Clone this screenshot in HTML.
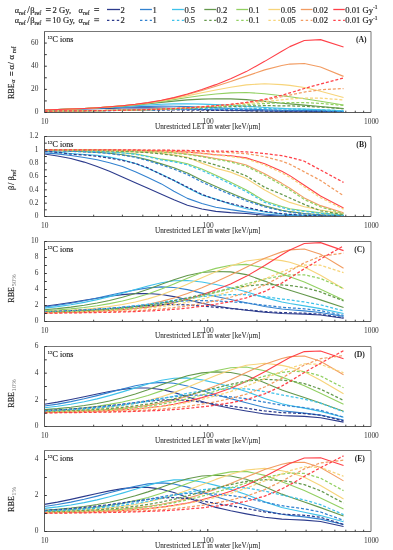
<!DOCTYPE html>
<html><head><meta charset="utf-8"><style>
html,body{margin:0;padding:0;background:#fff;}
#w{position:absolute;left:0;top:0;width:393px;height:550px;will-change:transform;}
svg{display:block;}
</style></head><body><div id="w">
<svg width="393" height="550" viewBox="0 0 393 550">
<g font-family="Liberation Serif, serif" font-size="8.6" fill="#2a2a2a" stroke="#2a2a2a" stroke-width="0.18">
<text y="12.7"><tspan x="14.8" font-size="8.2">α</tspan><tspan font-size="6.0" dy="2.4">ref</tspan><tspan x="27.2" dy="-2.4" font-size="9.4">/</tspan><tspan x="30.2">β</tspan><tspan font-size="6.0" dy="2.4">ref</tspan></text>
<text y="12.7"><tspan x="52.6">2 Gy,</tspan></text>
<text y="12.7"><tspan x="78.6" font-size="8.2">α</tspan><tspan font-size="6.0" dy="2.4">ref</tspan></text>
<text y="22.9"><tspan x="14.8" font-size="8.2">α</tspan><tspan font-size="6.0" dy="2.4">ref</tspan><tspan x="27.2" dy="-2.4" font-size="9.4">/</tspan><tspan x="30.2">β</tspan><tspan font-size="6.0" dy="2.4">ref</tspan></text>
<text y="22.9"><tspan x="52.2">10 Gy,</tspan></text>
<text y="22.9"><tspan x="78.6" font-size="8.2">α</tspan><tspan font-size="6.0" dy="2.4">ref</tspan></text>
</g>
<line x1="45.9" y1="8.50" x2="50.8" y2="8.50" stroke="#3a3a3a" stroke-width="0.9"/>
<line x1="45.9" y1="10.50" x2="50.8" y2="10.50" stroke="#3a3a3a" stroke-width="0.9"/>
<line x1="94.2" y1="8.50" x2="99.1" y2="8.50" stroke="#3a3a3a" stroke-width="0.9"/>
<line x1="94.2" y1="10.50" x2="99.1" y2="10.50" stroke="#3a3a3a" stroke-width="0.9"/>
<line x1="45.9" y1="18.70" x2="50.8" y2="18.70" stroke="#3a3a3a" stroke-width="0.9"/>
<line x1="45.9" y1="20.70" x2="50.8" y2="20.70" stroke="#3a3a3a" stroke-width="0.9"/>
<line x1="94.2" y1="18.70" x2="99.1" y2="18.70" stroke="#3a3a3a" stroke-width="0.9"/>
<line x1="94.2" y1="20.70" x2="99.1" y2="20.70" stroke="#3a3a3a" stroke-width="0.9"/>
<line x1="107.0" y1="9.5" x2="120.0" y2="9.5" stroke="#2c3b8c" stroke-width="1.3"/>
<line x1="107.0" y1="20.3" x2="120.0" y2="20.3" stroke="#2c3b8c" stroke-width="1.3" stroke-dasharray="2.4 2.5"/>
<text x="120.5" y="12.7" font-family="Liberation Serif, serif" font-size="8.6" fill="#2a2a2a" stroke="#2a2a2a" stroke-width="0.18">2</text>
<text x="120.5" y="22.9" font-family="Liberation Serif, serif" font-size="8.6" fill="#2a2a2a" stroke="#2a2a2a" stroke-width="0.18">2</text>
<line x1="140.0" y1="9.5" x2="151.9" y2="9.5" stroke="#3282d0" stroke-width="1.3"/>
<line x1="140.0" y1="20.3" x2="151.9" y2="20.3" stroke="#3282d0" stroke-width="1.3" stroke-dasharray="2.4 2.5"/>
<text x="152.4" y="12.7" font-family="Liberation Serif, serif" font-size="8.6" fill="#2a2a2a" stroke="#2a2a2a" stroke-width="0.18">1</text>
<text x="152.4" y="22.9" font-family="Liberation Serif, serif" font-size="8.6" fill="#2a2a2a" stroke="#2a2a2a" stroke-width="0.18">1</text>
<line x1="172.0" y1="9.5" x2="183.9" y2="9.5" stroke="#3fc2ea" stroke-width="1.3"/>
<line x1="172.0" y1="20.3" x2="183.9" y2="20.3" stroke="#3fc2ea" stroke-width="1.3" stroke-dasharray="2.4 2.5"/>
<text x="184.4" y="12.7" font-family="Liberation Serif, serif" font-size="8.6" fill="#2a2a2a" stroke="#2a2a2a" stroke-width="0.18">0.5</text>
<text x="184.4" y="22.9" font-family="Liberation Serif, serif" font-size="8.6" fill="#2a2a2a" stroke="#2a2a2a" stroke-width="0.18">0.5</text>
<line x1="204.3" y1="9.5" x2="216.0" y2="9.5" stroke="#64984c" stroke-width="1.3"/>
<line x1="204.3" y1="20.3" x2="216.0" y2="20.3" stroke="#64984c" stroke-width="1.3" stroke-dasharray="2.4 2.5"/>
<text x="216.5" y="12.7" font-family="Liberation Serif, serif" font-size="8.6" fill="#2a2a2a" stroke="#2a2a2a" stroke-width="0.18">0.2</text>
<text x="216.5" y="22.9" font-family="Liberation Serif, serif" font-size="8.6" fill="#2a2a2a" stroke="#2a2a2a" stroke-width="0.18">0.2</text>
<line x1="236.3" y1="9.5" x2="248.2" y2="9.5" stroke="#92d062" stroke-width="1.3"/>
<line x1="236.3" y1="20.3" x2="248.2" y2="20.3" stroke="#92d062" stroke-width="1.3" stroke-dasharray="2.4 2.5"/>
<text x="248.7" y="12.7" font-family="Liberation Serif, serif" font-size="8.6" fill="#2a2a2a" stroke="#2a2a2a" stroke-width="0.18">0.1</text>
<text x="248.7" y="22.9" font-family="Liberation Serif, serif" font-size="8.6" fill="#2a2a2a" stroke="#2a2a2a" stroke-width="0.18">0.1</text>
<line x1="268.4" y1="9.5" x2="280.2" y2="9.5" stroke="#f7d47a" stroke-width="1.3"/>
<line x1="268.4" y1="20.3" x2="280.2" y2="20.3" stroke="#f7d47a" stroke-width="1.3" stroke-dasharray="2.4 2.5"/>
<text x="280.7" y="12.7" font-family="Liberation Serif, serif" font-size="8.6" fill="#2a2a2a" stroke="#2a2a2a" stroke-width="0.18">0.05</text>
<text x="280.7" y="22.9" font-family="Liberation Serif, serif" font-size="8.6" fill="#2a2a2a" stroke="#2a2a2a" stroke-width="0.18">0.05</text>
<line x1="300.8" y1="9.5" x2="312.4" y2="9.5" stroke="#f29c62" stroke-width="1.3"/>
<line x1="300.8" y1="20.3" x2="312.4" y2="20.3" stroke="#f29c62" stroke-width="1.3" stroke-dasharray="2.4 2.5"/>
<text x="312.9" y="12.7" font-family="Liberation Serif, serif" font-size="8.6" fill="#2a2a2a" stroke="#2a2a2a" stroke-width="0.18">0.02</text>
<text x="312.9" y="22.9" font-family="Liberation Serif, serif" font-size="8.6" fill="#2a2a2a" stroke="#2a2a2a" stroke-width="0.18">0.02</text>
<line x1="333.3" y1="9.5" x2="344.8" y2="9.5" stroke="#ff4048" stroke-width="1.3"/>
<line x1="333.3" y1="20.3" x2="344.8" y2="20.3" stroke="#ff4048" stroke-width="1.3" stroke-dasharray="2.4 2.5"/>
<text x="345.3" y="12.7" font-family="Liberation Serif, serif" font-size="8.6" fill="#2a2a2a" stroke="#2a2a2a" stroke-width="0.18">0.01 Gy<tspan font-size="5.4" dy="-3.4">-1</tspan></text>
<text x="345.3" y="22.9" font-family="Liberation Serif, serif" font-size="8.6" fill="#2a2a2a" stroke="#2a2a2a" stroke-width="0.18">0.01 Gy<tspan font-size="5.4" dy="-3.4">-1</tspan></text>
<text transform="translate(14.0,99.1) rotate(-90)" font-family="Liberation Serif, serif" fill="#2a2a2a" stroke="#2a2a2a" stroke-width="0.18"><tspan x="0.0" y="0.0" font-size="8.2" >RBE</tspan><tspan x="16.4" y="0.8" font-size="6.0" font-style="italic">α</tspan><tspan x="29.4" y="0.0" font-size="9.0" >α</tspan><tspan x="34.6" y="0.0" font-size="8.2" >/</tspan><tspan x="39.4" y="0.0" font-size="9.0" >α</tspan><tspan x="46.2" y="1.8" font-size="5.8" >ref</tspan></text>
<line x1="10.5" y1="71.6" x2="10.5" y2="75.8" stroke="#3a3a3a" stroke-width="0.9"/>
<line x1="12.5" y1="71.6" x2="12.5" y2="75.8" stroke="#3a3a3a" stroke-width="0.9"/>
<text transform="translate(14.0,189.9) rotate(-90)" font-family="Liberation Serif, serif" fill="#2a2a2a" stroke="#2a2a2a" stroke-width="0.18"><tspan x="0.0" y="0.0" font-size="8.4" >β</tspan><tspan x="4.9" y="0.0" font-size="8.2" >/</tspan><tspan x="9.3" y="0.0" font-size="8.4" >β</tspan><tspan x="13.6" y="1.8" font-size="5.8" >ref</tspan></text>
<text transform="translate(14.0,302.8) rotate(-90)" font-family="Liberation Serif, serif" fill="#2a2a2a" stroke="#2a2a2a" stroke-width="0.18"><tspan x="0.0" y="0.0" font-size="8.2" >RBE</tspan><tspan x="16.4" y="1.9" font-size="6.6" fill="#777" stroke="none">50%</tspan></text>
<text transform="translate(14.0,407.8) rotate(-90)" font-family="Liberation Serif, serif" fill="#2a2a2a" stroke="#2a2a2a" stroke-width="0.18"><tspan x="0.0" y="0.0" font-size="8.2" >RBE</tspan><tspan x="16.4" y="1.9" font-size="6.6" fill="#777" stroke="none">10%</tspan></text>
<text transform="translate(14.0,511.9) rotate(-90)" font-family="Liberation Serif, serif" fill="#2a2a2a" stroke="#2a2a2a" stroke-width="0.18"><tspan x="0.0" y="0.0" font-size="8.2" >RBE</tspan><tspan x="16.2" y="1.9" font-size="6.6" fill="#777" stroke="none">1%</tspan></text>
<g fill="none" stroke-linejoin="round" stroke-linecap="butt">
<polyline points="44.50,110.05 57.43,109.75 70.85,109.41 84.19,109.03 97.12,108.66 109.48,108.34 122.41,108.06 135.34,107.89 147.95,107.86 161.42,108.02 173.90,108.37 187.40,108.89 201.89,109.47 215.84,109.93 230.64,110.30 246.26,110.62 264.68,110.97 281.83,111.17 289.85,111.21 304.32,111.27 320.51,111.42 343.54,111.97" stroke="#2c3b8c" stroke-width="1.1"/>
<polyline points="44.50,110.00 57.43,109.67 70.85,109.26 84.19,108.79 97.12,108.27 109.48,107.76 122.41,107.22 135.34,106.73 147.95,106.36 161.42,106.17 173.90,106.27 187.40,106.66 201.89,107.29 215.84,107.90 230.64,108.46 246.26,109.05 264.68,109.75 281.83,110.21 289.85,110.34 304.32,110.55 320.51,110.84 343.54,111.56" stroke="#3282d0" stroke-width="1.1"/>
<polyline points="44.50,109.97 57.43,109.62 70.85,109.17 84.19,108.64 97.12,108.03 109.48,107.37 122.41,106.61 135.34,105.81 147.95,105.04 161.42,104.32 173.90,103.89 187.40,103.81 201.89,104.14 215.84,104.67 230.64,105.33 246.26,106.20 264.68,107.43 281.83,108.37 289.85,108.68 304.32,109.17 320.51,109.76 343.54,110.81" stroke="#3fc2ea" stroke-width="1.1"/>
<polyline points="44.50,109.95 57.43,109.59 70.85,109.11 84.19,108.53 97.12,107.84 109.48,107.07 122.41,106.12 135.34,105.02 147.95,103.81 161.42,102.41 173.90,101.11 187.40,99.91 201.89,99.08 215.84,98.77 230.64,98.87 246.26,99.60 264.68,101.39 281.83,103.21 289.85,103.92 304.32,105.12 320.51,106.54 343.54,108.64" stroke="#64984c" stroke-width="1.1"/>
<polyline points="44.50,109.95 57.43,109.58 70.85,109.09 84.19,108.49 97.12,107.77 109.48,106.95 122.41,105.92 135.34,104.69 147.95,103.26 161.42,101.47 173.90,99.61 187.40,97.53 201.89,95.51 215.84,93.99 230.64,92.88 246.26,92.53 264.68,93.72 281.83,95.82 289.85,96.80 304.32,98.70 320.51,101.22 343.54,104.92" stroke="#92d062" stroke-width="1.1"/>
<polyline points="44.50,109.94 57.43,109.57 70.85,109.08 84.19,108.47 97.12,107.74 109.48,106.88 122.41,105.81 135.34,104.49 147.95,102.93 161.42,100.89 173.90,98.63 187.40,95.87 201.89,92.77 215.84,89.92 230.64,87.18 246.26,84.84 264.68,83.73 281.83,84.59 289.85,85.35 304.32,87.46 320.51,91.24 343.54,97.44" stroke="#f7d47a" stroke-width="1.1"/>
<polyline points="44.50,109.94 57.43,109.56 70.85,109.07 84.19,108.45 97.12,107.71 109.48,106.84 122.41,105.73 135.34,104.36 147.95,102.71 161.42,100.48 173.90,97.91 187.40,94.58 201.89,90.49 215.84,86.26 230.64,81.53 246.26,76.14 264.68,69.89 281.83,65.49 289.85,64.08 304.32,63.49 320.51,67.01 343.54,76.37" stroke="#f29c62" stroke-width="1.1"/>
<polyline points="44.50,109.94 57.43,109.56 70.85,109.07 84.19,108.45 97.12,107.70 109.48,106.82 122.41,105.70 135.34,104.31 147.95,102.62 161.42,100.32 173.90,97.63 187.40,94.07 201.89,89.53 215.84,84.64 230.64,78.85 246.26,71.61 264.68,61.35 281.83,51.19 289.85,46.63 304.32,40.47 320.51,39.63 343.54,46.95" stroke="#ff4048" stroke-width="1.1"/>
<polyline points="44.50,111.07 57.43,111.01 70.85,110.92 84.19,110.81 97.12,110.70 109.48,110.57 122.41,110.42 135.34,110.27 147.95,110.13 161.42,110.01 173.90,109.97 187.40,110.03 201.89,110.20 215.84,110.39 230.64,110.57 246.26,110.76 264.68,111.01 281.83,111.17 289.85,111.20 304.32,111.26 320.51,111.41 343.54,111.96" stroke="#2c3b8c" stroke-width="1.25" stroke-dasharray="3 1.9" stroke-dashoffset="0.0"/>
<polyline points="44.50,111.07 57.43,111.00 70.85,110.90 84.19,110.79 97.12,110.66 109.48,110.51 122.41,110.33 135.34,110.12 147.95,109.90 161.42,109.66 173.90,109.47 187.40,109.33 201.89,109.30 215.84,109.35 230.64,109.46 246.26,109.65 264.68,110.00 281.83,110.30 289.85,110.39 304.32,110.55 320.51,110.82 343.54,111.54" stroke="#3282d0" stroke-width="1.25" stroke-dasharray="3 1.9" stroke-dashoffset="0.7"/>
<polyline points="44.50,111.07 57.43,110.99 70.85,110.90 84.19,110.78 97.12,110.64 109.48,110.48 122.41,110.27 135.34,110.04 147.95,109.76 161.42,109.43 173.90,109.10 187.40,108.76 201.89,108.46 215.84,108.27 230.64,108.15 246.26,108.17 264.68,108.46 281.83,108.85 289.85,109.01 304.32,109.32 320.51,109.79 343.54,110.79" stroke="#3fc2ea" stroke-width="1.25" stroke-dasharray="3 1.9" stroke-dashoffset="1.4"/>
<polyline points="44.50,111.06 57.43,110.99 70.85,110.89 84.19,110.77 97.12,110.62 109.48,110.45 122.41,110.24 135.34,109.98 147.95,109.66 161.42,109.25 173.90,108.80 187.40,108.25 201.89,107.64 215.84,107.07 230.64,106.51 246.26,106.00 264.68,105.71 281.83,105.79 289.85,105.90 304.32,106.27 320.51,107.07 343.54,108.71" stroke="#64984c" stroke-width="1.25" stroke-dasharray="3 1.9" stroke-dashoffset="2.1"/>
<polyline points="44.50,111.06 57.43,110.99 70.85,110.89 84.19,110.77 97.12,110.62 109.48,110.44 122.41,110.22 135.34,109.95 147.95,109.62 161.42,109.19 173.90,108.68 187.40,108.04 201.89,107.26 215.84,106.46 230.64,105.58 246.26,104.60 264.68,103.52 281.83,102.82 289.85,102.60 304.32,102.59 320.51,103.36 343.54,105.49" stroke="#92d062" stroke-width="1.25" stroke-dasharray="3 1.9" stroke-dashoffset="2.8"/>
<polyline points="44.50,111.06 57.43,110.99 70.85,110.89 84.19,110.76 97.12,110.62 109.48,110.44 122.41,110.22 135.34,109.94 147.95,109.60 161.42,109.15 173.90,108.61 187.40,107.91 201.89,107.03 215.84,106.08 230.64,104.97 246.26,103.59 264.68,101.67 281.83,99.84 289.85,99.04 304.32,98.02 320.51,98.07 343.54,99.97" stroke="#f7d47a" stroke-width="1.25" stroke-dasharray="3 1.9" stroke-dashoffset="3.5"/>
<polyline points="44.50,111.06 57.43,110.99 70.85,110.89 84.19,110.76 97.12,110.61 109.48,110.44 122.41,110.21 135.34,109.93 147.95,109.59 161.42,109.12 173.90,108.57 187.40,107.83 201.89,106.87 215.84,105.81 230.64,104.50 246.26,102.78 264.68,100.03 281.83,96.76 289.85,95.03 304.32,92.03 320.51,89.75 343.54,88.53" stroke="#f29c62" stroke-width="1.25" stroke-dasharray="3 1.9" stroke-dashoffset="4.2"/>
<polyline points="44.50,111.06 57.43,110.99 70.85,110.89 84.19,110.76 97.12,110.61 109.48,110.44 122.41,110.21 135.34,109.93 147.95,109.58 161.42,109.11 173.90,108.55 187.40,107.80 201.89,106.81 215.84,105.70 230.64,104.32 246.26,102.45 264.68,99.31 281.83,95.25 289.85,92.95 304.32,88.51 320.51,84.01 343.54,77.90" stroke="#ff4048" stroke-width="1.25" stroke-dasharray="3 1.9" stroke-dashoffset="4.9"/>
</g>
<path d="M44.5,31.5 V112.5 H371" fill="none" stroke="#5a5a5a" stroke-width="1"/>
<path d="M44,31.5 H371 V112.5" fill="none" stroke="#777" stroke-width="1"/>
<line x1="44.5" y1="112.50" x2="46.8" y2="112.50" stroke="#333" stroke-width="1"/>
<line x1="44.5" y1="89.36" x2="46.8" y2="89.36" stroke="#333" stroke-width="1"/>
<line x1="44.5" y1="66.21" x2="46.8" y2="66.21" stroke="#333" stroke-width="1"/>
<line x1="44.5" y1="43.07" x2="46.8" y2="43.07" stroke="#333" stroke-width="1"/>
<line x1="44.5" y1="100.93" x2="46.8" y2="100.93" stroke="#333" stroke-width="1"/>
<line x1="44.5" y1="77.79" x2="46.8" y2="77.79" stroke="#333" stroke-width="1"/>
<line x1="44.5" y1="54.64" x2="46.8" y2="54.64" stroke="#333" stroke-width="1"/>
<text x="38.4" y="114.40" text-anchor="end" font-family="Liberation Serif, serif" font-size="7.4" fill="#333">0</text>
<text x="38.4" y="91.26" text-anchor="end" font-family="Liberation Serif, serif" font-size="7.4" fill="#333">20</text>
<text x="38.4" y="68.11" text-anchor="end" font-family="Liberation Serif, serif" font-size="7.4" fill="#333">40</text>
<text x="38.4" y="44.97" text-anchor="end" font-family="Liberation Serif, serif" font-size="7.4" fill="#333">60</text>
<line x1="93.66" y1="112.5" x2="93.66" y2="110.7" stroke="#333" stroke-width="0.9"/>
<line x1="122.41" y1="112.5" x2="122.41" y2="110.7" stroke="#333" stroke-width="0.9"/>
<line x1="142.82" y1="112.5" x2="142.82" y2="110.7" stroke="#333" stroke-width="0.9"/>
<line x1="158.64" y1="112.5" x2="158.64" y2="110.7" stroke="#333" stroke-width="0.9"/>
<line x1="171.57" y1="112.5" x2="171.57" y2="110.7" stroke="#333" stroke-width="0.9"/>
<line x1="182.50" y1="112.5" x2="182.50" y2="110.7" stroke="#333" stroke-width="0.9"/>
<line x1="191.97" y1="112.5" x2="191.97" y2="110.7" stroke="#333" stroke-width="0.9"/>
<line x1="200.33" y1="112.5" x2="200.33" y2="110.7" stroke="#333" stroke-width="0.9"/>
<line x1="256.96" y1="112.5" x2="256.96" y2="110.7" stroke="#333" stroke-width="0.9"/>
<line x1="285.71" y1="112.5" x2="285.71" y2="110.7" stroke="#333" stroke-width="0.9"/>
<line x1="306.12" y1="112.5" x2="306.12" y2="110.7" stroke="#333" stroke-width="0.9"/>
<line x1="321.94" y1="112.5" x2="321.94" y2="110.7" stroke="#333" stroke-width="0.9"/>
<line x1="334.87" y1="112.5" x2="334.87" y2="110.7" stroke="#333" stroke-width="0.9"/>
<line x1="345.80" y1="112.5" x2="345.80" y2="110.7" stroke="#333" stroke-width="0.9"/>
<line x1="355.27" y1="112.5" x2="355.27" y2="110.7" stroke="#333" stroke-width="0.9"/>
<line x1="363.63" y1="112.5" x2="363.63" y2="110.7" stroke="#333" stroke-width="0.9"/>
<line x1="207.80" y1="112.5" x2="207.80" y2="110.0" stroke="#333" stroke-width="1"/>
<text x="44.80" y="124.4" text-anchor="middle" font-family="Liberation Serif, serif" font-size="7.4" fill="#333">10</text>
<text x="208.10" y="124.4" text-anchor="middle" font-family="Liberation Serif, serif" font-size="7.4" fill="#333">100</text>
<text x="371.40" y="124.4" text-anchor="middle" font-family="Liberation Serif, serif" font-size="7.4" fill="#333">1000</text>
<text x="155" y="128.9" font-family="Liberation Serif, serif" font-size="7.4" textLength="105.5" lengthAdjust="spacingAndGlyphs" fill="#2e2e2e" stroke="#2e2e2e" stroke-width="0.08">Unrestricted LET in water [keV/μm]</text>
<text x="47.6" y="41.6" font-family="Liberation Serif, serif" font-size="8" fill="#2a2a2a" stroke="#2a2a2a" stroke-width="0.18"><tspan font-size="5.0" dy="-3.0">12</tspan><tspan dy="3.0" x="52.6">C ions</tspan></text>
<text x="366.6" y="41.5" text-anchor="end" font-family="Liberation Serif, serif" font-size="7.7" font-weight="bold" fill="#1e1e1e">(A)</text>
<g fill="none" stroke-linejoin="round" stroke-linecap="butt">
<polyline points="44.50,153.96 57.43,156.01 70.85,158.56 84.19,162.10 97.12,166.53 109.48,171.24 122.41,176.96 135.34,182.86 147.95,188.32 161.42,194.18 173.90,199.84 187.40,205.32 201.89,208.96 215.84,211.34 230.64,212.59 246.26,213.49 264.68,215.25 281.83,215.93 289.85,216.07 304.32,216.24 320.51,216.36 343.54,216.45" stroke="#2c3b8c" stroke-width="1.1"/>
<polyline points="44.50,152.88 57.43,153.84 70.85,155.44 84.19,157.47 97.12,159.78 109.48,162.84 122.41,166.49 135.34,171.64 147.95,177.52 161.42,183.89 173.90,191.16 187.40,198.39 201.89,203.50 215.84,207.18 230.64,209.66 246.26,211.84 264.68,214.15 281.83,215.29 289.85,215.59 304.32,215.95 320.51,216.19 343.54,216.38" stroke="#3282d0" stroke-width="1.1"/>
<polyline points="44.50,151.28 57.43,152.17 70.85,153.48 84.19,154.50 97.12,155.20 109.48,157.14 122.41,159.83 135.34,163.52 147.95,168.40 161.42,174.35 173.90,180.51 187.40,187.84 201.89,195.01 215.84,199.13 230.64,204.18 246.26,208.67 264.68,211.97 281.83,213.99 289.85,214.60 304.32,215.34 320.51,215.84 343.54,216.25" stroke="#3fc2ea" stroke-width="1.1"/>
<polyline points="44.50,150.48 57.43,150.76 70.85,151.17 84.19,151.64 97.12,152.20 109.48,153.22 122.41,154.72 135.34,156.68 147.95,159.86 161.42,163.90 173.90,167.74 187.40,173.04 201.89,180.34 215.84,186.58 230.64,192.90 246.26,199.50 264.68,205.86 281.83,210.25 289.85,211.67 304.32,213.48 320.51,214.75 343.54,215.81" stroke="#64984c" stroke-width="1.1"/>
<polyline points="44.50,150.18 57.43,150.34 70.85,150.56 84.19,150.89 97.12,151.32 109.48,151.89 122.41,152.69 135.34,153.84 147.95,156.26 161.42,159.17 173.90,160.86 187.40,163.68 201.89,169.03 215.84,175.16 230.64,182.22 246.26,189.92 264.68,200.97 281.83,206.58 289.85,208.70 304.32,210.78 320.51,212.92 343.54,215.06" stroke="#92d062" stroke-width="1.1"/>
<polyline points="44.50,150.02 57.43,150.11 70.85,150.23 84.19,150.41 97.12,150.65 109.48,150.96 122.41,151.40 135.34,152.02 147.95,152.49 161.42,153.29 173.90,154.84 187.40,157.31 201.89,163.13 215.84,168.19 230.64,172.13 246.26,178.58 264.68,189.93 281.83,199.15 289.85,202.40 304.32,206.71 320.51,210.03 343.54,213.52" stroke="#f7d47a" stroke-width="1.1"/>
<polyline points="44.50,149.92 57.43,149.95 70.85,150.01 84.19,150.09 97.12,150.20 109.48,150.34 122.41,150.54 135.34,150.82 147.95,151.22 161.42,151.85 173.90,152.71 187.40,154.05 201.89,156.15 215.84,158.55 230.64,160.95 246.26,164.99 264.68,173.75 281.83,183.35 289.85,188.21 304.32,197.90 320.51,205.63 343.54,212.82" stroke="#f29c62" stroke-width="1.1"/>
<polyline points="44.50,149.88 57.43,149.90 70.85,149.93 84.19,149.97 97.12,150.03 109.48,150.11 122.41,150.22 135.34,150.37 147.95,150.59 161.42,150.94 173.90,151.42 187.40,152.17 201.89,153.30 215.84,154.69 230.64,155.78 246.26,157.88 264.68,163.82 281.83,171.36 289.85,175.63 304.32,185.22 320.51,196.08 343.54,207.98" stroke="#ff4048" stroke-width="1.1"/>
<polyline points="44.50,151.15 57.43,152.36 70.85,154.15 84.19,154.97 97.12,156.16 109.48,158.06 122.41,160.40 135.34,163.43 147.95,167.92 161.42,174.67 173.90,180.39 187.40,187.13 201.89,194.37 215.84,199.52 230.64,203.45 246.26,207.34 264.68,211.35 281.83,213.67 289.85,214.36 304.32,215.19 320.51,215.76 343.54,216.21" stroke="#2c3b8c" stroke-width="1.25" stroke-dasharray="3 1.9" stroke-dashoffset="0.0"/>
<polyline points="44.50,150.54 57.43,150.85 70.85,151.31 84.19,151.83 97.12,152.47 109.48,153.57 122.41,155.20 135.34,157.31 147.95,160.68 161.42,164.97 173.90,169.05 187.40,174.58 201.89,182.03 215.84,188.28 230.64,194.48 246.26,200.85 264.68,206.81 281.83,210.86 289.85,212.16 304.32,213.79 320.51,214.94 343.54,215.89" stroke="#3282d0" stroke-width="1.25" stroke-dasharray="3 1.9" stroke-dashoffset="0.7"/>
<polyline points="44.50,150.22 57.43,150.39 70.85,150.64 84.19,150.99 97.12,151.47 109.48,152.09 122.41,152.97 135.34,154.21 147.95,156.76 161.42,159.86 173.90,161.77 187.40,164.85 201.89,170.46 215.84,176.77 230.64,183.92 246.26,191.58 264.68,202.37 281.83,207.60 289.85,209.55 304.32,211.37 320.51,213.29 343.54,215.21" stroke="#3fc2ea" stroke-width="1.25" stroke-dasharray="3 1.9" stroke-dashoffset="1.4"/>
<polyline points="44.50,150.00 57.43,150.08 70.85,150.19 84.19,150.35 97.12,150.57 109.48,150.85 122.41,151.26 135.34,151.82 147.95,152.60 161.42,153.83 173.90,155.47 187.40,157.93 201.89,161.21 215.84,165.04 230.64,169.66 246.26,175.91 264.68,187.31 281.83,194.38 289.85,198.00 304.32,204.43 320.51,210.77 343.54,214.53" stroke="#64984c" stroke-width="1.25" stroke-dasharray="3 1.9" stroke-dashoffset="2.1"/>
<polyline points="44.50,149.93 57.43,149.97 70.85,150.03 84.19,150.11 97.12,150.23 109.48,150.39 122.41,150.61 135.34,150.92 147.95,151.36 161.42,152.05 173.90,152.99 187.40,154.45 201.89,156.71 215.84,159.30 230.64,161.91 246.26,166.22 264.68,175.31 281.83,185.05 289.85,189.90 304.32,199.44 320.51,206.87 343.54,213.51" stroke="#92d062" stroke-width="1.25" stroke-dasharray="3 1.9" stroke-dashoffset="2.8"/>
<polyline points="44.50,149.88 57.43,149.91 70.85,149.94 84.19,149.99 97.12,150.05 109.48,150.13 122.41,150.25 135.34,150.43 147.95,150.66 161.42,151.05 173.90,151.57 187.40,152.40 201.89,153.64 215.84,155.15 230.64,156.39 246.26,158.71 264.68,165.01 281.83,172.87 289.85,177.26 304.32,186.93 320.51,197.69 343.54,209.10" stroke="#f7d47a" stroke-width="1.25" stroke-dasharray="3 1.9" stroke-dashoffset="3.5"/>
<polyline points="44.50,149.86 57.43,149.87 70.85,149.88 84.19,149.90 97.12,149.93 109.48,149.97 122.41,150.02 135.34,150.10 147.95,150.20 161.42,150.38 173.90,150.61 187.40,150.99 201.89,151.42 215.84,152.07 230.64,152.65 246.26,153.65 264.68,156.69 281.83,161.21 289.85,164.18 304.32,171.85 320.51,180.40 343.54,195.71" stroke="#f29c62" stroke-width="1.25" stroke-dasharray="3 1.9" stroke-dashoffset="4.2"/>
<polyline points="44.50,149.85 57.43,149.85 70.85,149.86 84.19,149.87 97.12,149.89 109.48,149.91 122.41,149.93 135.34,149.98 147.95,150.03 161.42,150.13 173.90,150.26 187.40,150.46 201.89,150.78 215.84,151.17 230.64,151.29 246.26,151.87 264.68,153.48 281.83,155.71 289.85,157.35 304.32,161.24 320.51,169.99 343.54,182.42" stroke="#ff4048" stroke-width="1.25" stroke-dasharray="3 1.9" stroke-dashoffset="4.9"/>
</g>
<path d="M44.5,136.5 V216.5 H371" fill="none" stroke="#5a5a5a" stroke-width="1"/>
<path d="M44,136.5 H371 V216.5" fill="none" stroke="#777" stroke-width="1"/>
<line x1="44.5" y1="216.50" x2="46.8" y2="216.50" stroke="#333" stroke-width="1"/>
<line x1="44.5" y1="203.17" x2="46.8" y2="203.17" stroke="#333" stroke-width="1"/>
<line x1="44.5" y1="189.83" x2="46.8" y2="189.83" stroke="#333" stroke-width="1"/>
<line x1="44.5" y1="176.50" x2="46.8" y2="176.50" stroke="#333" stroke-width="1"/>
<line x1="44.5" y1="163.17" x2="46.8" y2="163.17" stroke="#333" stroke-width="1"/>
<line x1="44.5" y1="149.83" x2="46.8" y2="149.83" stroke="#333" stroke-width="1"/>
<line x1="44.5" y1="136.50" x2="46.8" y2="136.50" stroke="#333" stroke-width="1"/>
<line x1="44.5" y1="209.83" x2="46.8" y2="209.83" stroke="#333" stroke-width="1"/>
<line x1="44.5" y1="196.50" x2="46.8" y2="196.50" stroke="#333" stroke-width="1"/>
<line x1="44.5" y1="183.17" x2="46.8" y2="183.17" stroke="#333" stroke-width="1"/>
<line x1="44.5" y1="169.83" x2="46.8" y2="169.83" stroke="#333" stroke-width="1"/>
<line x1="44.5" y1="156.50" x2="46.8" y2="156.50" stroke="#333" stroke-width="1"/>
<line x1="44.5" y1="143.17" x2="46.8" y2="143.17" stroke="#333" stroke-width="1"/>
<text x="38.4" y="218.40" text-anchor="end" font-family="Liberation Serif, serif" font-size="7.4" fill="#333">0</text>
<text x="38.4" y="205.07" text-anchor="end" font-family="Liberation Serif, serif" font-size="7.4" fill="#333">0.2</text>
<text x="38.4" y="191.73" text-anchor="end" font-family="Liberation Serif, serif" font-size="7.4" fill="#333">0.4</text>
<text x="38.4" y="178.40" text-anchor="end" font-family="Liberation Serif, serif" font-size="7.4" fill="#333">0.6</text>
<text x="38.4" y="165.07" text-anchor="end" font-family="Liberation Serif, serif" font-size="7.4" fill="#333">0.8</text>
<text x="38.4" y="151.73" text-anchor="end" font-family="Liberation Serif, serif" font-size="7.4" fill="#333">1</text>
<text x="38.4" y="138.40" text-anchor="end" font-family="Liberation Serif, serif" font-size="7.4" fill="#333">1.2</text>
<line x1="93.66" y1="216.5" x2="93.66" y2="214.7" stroke="#333" stroke-width="0.9"/>
<line x1="122.41" y1="216.5" x2="122.41" y2="214.7" stroke="#333" stroke-width="0.9"/>
<line x1="142.82" y1="216.5" x2="142.82" y2="214.7" stroke="#333" stroke-width="0.9"/>
<line x1="158.64" y1="216.5" x2="158.64" y2="214.7" stroke="#333" stroke-width="0.9"/>
<line x1="171.57" y1="216.5" x2="171.57" y2="214.7" stroke="#333" stroke-width="0.9"/>
<line x1="182.50" y1="216.5" x2="182.50" y2="214.7" stroke="#333" stroke-width="0.9"/>
<line x1="191.97" y1="216.5" x2="191.97" y2="214.7" stroke="#333" stroke-width="0.9"/>
<line x1="200.33" y1="216.5" x2="200.33" y2="214.7" stroke="#333" stroke-width="0.9"/>
<line x1="256.96" y1="216.5" x2="256.96" y2="214.7" stroke="#333" stroke-width="0.9"/>
<line x1="285.71" y1="216.5" x2="285.71" y2="214.7" stroke="#333" stroke-width="0.9"/>
<line x1="306.12" y1="216.5" x2="306.12" y2="214.7" stroke="#333" stroke-width="0.9"/>
<line x1="321.94" y1="216.5" x2="321.94" y2="214.7" stroke="#333" stroke-width="0.9"/>
<line x1="334.87" y1="216.5" x2="334.87" y2="214.7" stroke="#333" stroke-width="0.9"/>
<line x1="345.80" y1="216.5" x2="345.80" y2="214.7" stroke="#333" stroke-width="0.9"/>
<line x1="355.27" y1="216.5" x2="355.27" y2="214.7" stroke="#333" stroke-width="0.9"/>
<line x1="363.63" y1="216.5" x2="363.63" y2="214.7" stroke="#333" stroke-width="0.9"/>
<line x1="207.80" y1="216.5" x2="207.80" y2="214.0" stroke="#333" stroke-width="1"/>
<text x="44.80" y="228.4" text-anchor="middle" font-family="Liberation Serif, serif" font-size="7.4" fill="#333">10</text>
<text x="208.10" y="228.4" text-anchor="middle" font-family="Liberation Serif, serif" font-size="7.4" fill="#333">100</text>
<text x="371.40" y="228.4" text-anchor="middle" font-family="Liberation Serif, serif" font-size="7.4" fill="#333">1000</text>
<text x="155" y="232.9" font-family="Liberation Serif, serif" font-size="7.4" textLength="105.5" lengthAdjust="spacingAndGlyphs" fill="#2e2e2e" stroke="#2e2e2e" stroke-width="0.08">Unrestricted LET in water [keV/μm]</text>
<text x="47.6" y="146.6" font-family="Liberation Serif, serif" font-size="8" fill="#2a2a2a" stroke="#2a2a2a" stroke-width="0.18"><tspan font-size="5.0" dy="-3.0">12</tspan><tspan dy="3.0" x="52.6">C ions</tspan></text>
<text x="366.6" y="146.5" text-anchor="end" font-family="Liberation Serif, serif" font-size="7.7" font-weight="bold" fill="#1e1e1e">(B)</text>
<g fill="none" stroke-linejoin="round" stroke-linecap="butt">
<polyline points="44.50,306.26 57.43,304.55 70.85,302.53 84.19,300.33 97.12,298.18 109.48,296.27 122.41,294.64 135.34,293.62 147.95,293.48 161.42,294.51 173.90,296.61 187.40,299.74 201.89,303.26 215.84,306.03 230.64,308.22 246.26,310.19 264.68,312.29 281.83,313.47 289.85,313.72 304.32,314.11 320.51,315.03 343.54,318.28" stroke="#2c3b8c" stroke-width="1.1"/>
<polyline points="44.50,307.00 57.43,305.32 70.85,303.20 84.19,300.73 97.12,298.05 109.48,295.32 122.41,292.47 135.34,289.86 147.95,287.89 161.42,286.92 173.90,287.47 187.40,289.66 201.89,293.11 215.84,296.42 230.64,299.49 246.26,302.69 264.68,306.50 281.83,309.01 289.85,309.74 304.32,310.87 320.51,312.45 343.54,316.36" stroke="#3282d0" stroke-width="1.1"/>
<polyline points="44.50,308.12 57.43,306.63 70.85,304.70 84.19,302.34 97.12,299.62 109.48,296.65 122.41,293.21 135.34,289.55 147.95,286.01 161.42,282.73 173.90,280.79 187.40,280.44 201.89,282.03 215.84,284.58 230.64,287.72 246.26,291.82 264.68,297.63 281.83,302.06 289.85,303.54 304.32,305.85 320.51,308.60 343.54,313.57" stroke="#3fc2ea" stroke-width="1.1"/>
<polyline points="44.50,309.71 57.43,308.62 70.85,307.15 84.19,305.29 97.12,303.05 109.48,300.45 122.41,297.23 135.34,293.44 147.95,289.22 161.42,284.27 173.90,279.68 187.40,275.45 201.89,272.55 215.84,271.47 230.64,271.91 246.26,274.59 264.68,281.11 281.83,287.77 289.85,290.35 304.32,294.71 320.51,299.87 343.54,307.48" stroke="#64984c" stroke-width="1.1"/>
<polyline points="44.50,310.75 57.43,309.94 70.85,308.85 84.19,307.44 97.12,305.71 109.48,303.65 122.41,301.01 135.34,297.76 147.95,293.94 161.42,289.06 173.90,283.94 187.40,278.20 201.89,272.59 215.84,268.35 230.64,265.29 246.26,264.36 264.68,267.83 281.83,273.86 289.85,276.68 304.32,282.10 320.51,289.32 343.54,299.88" stroke="#92d062" stroke-width="1.1"/>
<polyline points="44.50,311.55 57.43,310.98 70.85,310.20 84.19,309.20 97.12,307.94 109.48,306.43 122.41,304.44 135.34,301.93 147.95,298.85 161.42,294.73 173.90,290.08 187.40,284.32 201.89,277.78 215.84,271.74 230.64,265.92 246.26,260.94 264.68,258.65 281.83,260.61 289.85,262.28 304.32,266.92 320.51,275.18 343.54,288.70" stroke="#f7d47a" stroke-width="1.1"/>
<polyline points="44.50,312.28 57.43,311.93 70.85,311.45 84.19,310.83 97.12,310.06 109.48,309.12 122.41,307.87 135.34,306.26 147.95,304.22 161.42,301.37 173.90,297.96 187.40,293.42 201.89,287.71 215.84,281.74 230.64,274.97 246.26,267.23 264.68,258.21 281.83,251.87 289.85,249.85 304.32,249.06 320.51,254.31 343.54,268.17" stroke="#f29c62" stroke-width="1.1"/>
<polyline points="44.50,312.64 57.43,312.40 70.85,312.08 84.19,311.65 97.12,311.13 109.48,310.49 122.41,309.64 135.34,308.54 147.95,307.13 161.42,305.12 173.90,302.66 187.40,299.27 201.89,294.80 215.84,289.86 230.64,283.91 246.26,276.36 264.68,265.57 281.83,254.82 289.85,249.98 304.32,243.45 320.51,242.63 343.54,250.63" stroke="#ff4048" stroke-width="1.1"/>
<polyline points="44.50,311.75 57.43,311.30 70.85,310.73 84.19,310.05 97.12,309.28 109.48,308.44 122.41,307.48 135.34,306.47 147.95,305.53 161.42,304.75 173.90,304.49 187.40,304.90 201.89,306.05 215.84,307.32 230.64,308.53 246.26,309.84 264.68,311.55 281.83,312.60 289.85,312.83 304.32,313.21 320.51,314.22 343.54,317.88" stroke="#2c3b8c" stroke-width="1.25" stroke-dasharray="3 1.9" stroke-dashoffset="0.0"/>
<polyline points="44.50,311.81 57.43,311.36 70.85,310.78 84.19,310.07 97.12,309.24 109.48,308.30 122.41,307.16 135.34,305.86 147.95,304.46 161.42,302.93 173.90,301.67 187.40,300.79 201.89,300.62 215.84,301.00 230.64,301.71 246.26,302.96 264.68,305.26 281.83,307.19 289.85,307.80 304.32,308.86 320.51,310.61 343.54,315.28" stroke="#3282d0" stroke-width="1.25" stroke-dasharray="3 1.9" stroke-dashoffset="0.7"/>
<polyline points="44.50,311.94 57.43,311.52 70.85,310.97 84.19,310.28 97.12,309.46 109.48,308.52 122.41,307.33 135.34,305.92 147.95,304.29 161.42,302.29 173.90,300.29 187.40,298.22 201.89,296.45 215.84,295.29 230.64,294.60 246.26,294.73 264.68,296.59 281.83,299.01 289.85,300.00 304.32,301.91 320.51,304.82 343.54,310.98" stroke="#3fc2ea" stroke-width="1.25" stroke-dasharray="3 1.9" stroke-dashoffset="1.4"/>
<polyline points="44.50,312.22 57.43,311.87 70.85,311.41 84.19,310.82 97.12,310.11 109.48,309.27 122.41,308.20 135.34,306.87 147.95,305.28 161.42,303.16 173.90,300.81 187.40,297.92 201.89,294.67 215.84,291.66 230.64,288.67 246.26,285.98 264.68,284.44 281.83,284.94 289.85,285.54 304.32,287.59 320.51,291.93 343.54,300.85" stroke="#64984c" stroke-width="1.25" stroke-dasharray="3 1.9" stroke-dashoffset="2.1"/>
<polyline points="44.50,312.48 57.43,312.19 70.85,311.82 84.19,311.34 97.12,310.76 109.48,310.06 122.41,309.16 135.34,308.03 147.95,306.64 161.42,304.74 173.90,302.53 187.40,299.66 201.89,296.14 215.84,292.53 230.64,288.50 246.26,283.99 264.68,279.00 281.83,275.77 289.85,274.81 304.32,274.79 320.51,278.47 343.54,288.49" stroke="#92d062" stroke-width="1.25" stroke-dasharray="3 1.9" stroke-dashoffset="2.8"/>
<polyline points="44.50,312.72 57.43,312.51 70.85,312.22 84.19,311.86 97.12,311.41 109.48,310.87 122.41,310.17 135.34,309.28 147.95,308.17 161.42,306.62 173.90,304.77 187.40,302.27 201.89,299.06 215.84,295.56 230.64,291.39 246.26,286.19 264.68,278.94 281.83,271.95 289.85,268.89 304.32,264.98 320.51,265.24 343.54,272.71" stroke="#f7d47a" stroke-width="1.25" stroke-dasharray="3 1.9" stroke-dashoffset="3.5"/>
<polyline points="44.50,312.99 57.43,312.84 70.85,312.66 84.19,312.42 97.12,312.12 109.48,311.77 122.41,311.30 135.34,310.71 147.95,309.97 161.42,308.91 173.90,307.63 187.40,305.83 201.89,303.43 215.84,300.69 230.64,297.25 246.26,292.61 264.68,285.08 281.83,276.00 289.85,271.18 304.32,262.77 320.51,256.40 343.54,253.03" stroke="#f29c62" stroke-width="1.25" stroke-dasharray="3 1.9" stroke-dashoffset="4.2"/>
<polyline points="44.50,313.13 57.43,313.03 70.85,312.90 84.19,312.73 97.12,312.52 109.48,312.27 122.41,311.94 135.34,311.52 147.95,311.00 161.42,310.25 173.90,309.33 187.40,308.04 201.89,306.28 215.84,304.23 230.64,301.58 246.26,297.87 264.68,291.46 281.83,282.98 289.85,278.13 304.32,268.68 320.51,259.05 343.54,245.96" stroke="#ff4048" stroke-width="1.25" stroke-dasharray="3 1.9" stroke-dashoffset="4.9"/>
</g>
<path d="M44.5,241.5 V321.5 H371" fill="none" stroke="#5a5a5a" stroke-width="1"/>
<path d="M44,241.5 H371 V321.5" fill="none" stroke="#777" stroke-width="1"/>
<line x1="44.5" y1="321.50" x2="46.8" y2="321.50" stroke="#333" stroke-width="1"/>
<line x1="44.5" y1="305.50" x2="46.8" y2="305.50" stroke="#333" stroke-width="1"/>
<line x1="44.5" y1="289.50" x2="46.8" y2="289.50" stroke="#333" stroke-width="1"/>
<line x1="44.5" y1="273.50" x2="46.8" y2="273.50" stroke="#333" stroke-width="1"/>
<line x1="44.5" y1="257.50" x2="46.8" y2="257.50" stroke="#333" stroke-width="1"/>
<line x1="44.5" y1="241.50" x2="46.8" y2="241.50" stroke="#333" stroke-width="1"/>
<line x1="44.5" y1="313.50" x2="46.8" y2="313.50" stroke="#333" stroke-width="1"/>
<line x1="44.5" y1="297.50" x2="46.8" y2="297.50" stroke="#333" stroke-width="1"/>
<line x1="44.5" y1="281.50" x2="46.8" y2="281.50" stroke="#333" stroke-width="1"/>
<line x1="44.5" y1="265.50" x2="46.8" y2="265.50" stroke="#333" stroke-width="1"/>
<line x1="44.5" y1="249.50" x2="46.8" y2="249.50" stroke="#333" stroke-width="1"/>
<text x="38.4" y="323.40" text-anchor="end" font-family="Liberation Serif, serif" font-size="7.4" fill="#333">0</text>
<text x="38.4" y="307.40" text-anchor="end" font-family="Liberation Serif, serif" font-size="7.4" fill="#333">2</text>
<text x="38.4" y="291.40" text-anchor="end" font-family="Liberation Serif, serif" font-size="7.4" fill="#333">4</text>
<text x="38.4" y="275.40" text-anchor="end" font-family="Liberation Serif, serif" font-size="7.4" fill="#333">6</text>
<text x="38.4" y="259.40" text-anchor="end" font-family="Liberation Serif, serif" font-size="7.4" fill="#333">8</text>
<text x="38.4" y="243.40" text-anchor="end" font-family="Liberation Serif, serif" font-size="7.4" fill="#333">10</text>
<line x1="93.66" y1="321.5" x2="93.66" y2="319.7" stroke="#333" stroke-width="0.9"/>
<line x1="122.41" y1="321.5" x2="122.41" y2="319.7" stroke="#333" stroke-width="0.9"/>
<line x1="142.82" y1="321.5" x2="142.82" y2="319.7" stroke="#333" stroke-width="0.9"/>
<line x1="158.64" y1="321.5" x2="158.64" y2="319.7" stroke="#333" stroke-width="0.9"/>
<line x1="171.57" y1="321.5" x2="171.57" y2="319.7" stroke="#333" stroke-width="0.9"/>
<line x1="182.50" y1="321.5" x2="182.50" y2="319.7" stroke="#333" stroke-width="0.9"/>
<line x1="191.97" y1="321.5" x2="191.97" y2="319.7" stroke="#333" stroke-width="0.9"/>
<line x1="200.33" y1="321.5" x2="200.33" y2="319.7" stroke="#333" stroke-width="0.9"/>
<line x1="256.96" y1="321.5" x2="256.96" y2="319.7" stroke="#333" stroke-width="0.9"/>
<line x1="285.71" y1="321.5" x2="285.71" y2="319.7" stroke="#333" stroke-width="0.9"/>
<line x1="306.12" y1="321.5" x2="306.12" y2="319.7" stroke="#333" stroke-width="0.9"/>
<line x1="321.94" y1="321.5" x2="321.94" y2="319.7" stroke="#333" stroke-width="0.9"/>
<line x1="334.87" y1="321.5" x2="334.87" y2="319.7" stroke="#333" stroke-width="0.9"/>
<line x1="345.80" y1="321.5" x2="345.80" y2="319.7" stroke="#333" stroke-width="0.9"/>
<line x1="355.27" y1="321.5" x2="355.27" y2="319.7" stroke="#333" stroke-width="0.9"/>
<line x1="363.63" y1="321.5" x2="363.63" y2="319.7" stroke="#333" stroke-width="0.9"/>
<line x1="207.80" y1="321.5" x2="207.80" y2="319.0" stroke="#333" stroke-width="1"/>
<text x="44.80" y="333.4" text-anchor="middle" font-family="Liberation Serif, serif" font-size="7.4" fill="#333">10</text>
<text x="208.10" y="333.4" text-anchor="middle" font-family="Liberation Serif, serif" font-size="7.4" fill="#333">100</text>
<text x="371.40" y="333.4" text-anchor="middle" font-family="Liberation Serif, serif" font-size="7.4" fill="#333">1000</text>
<text x="155" y="337.9" font-family="Liberation Serif, serif" font-size="7.4" textLength="105.5" lengthAdjust="spacingAndGlyphs" fill="#2e2e2e" stroke="#2e2e2e" stroke-width="0.08">Unrestricted LET in water [keV/μm]</text>
<text x="47.6" y="251.6" font-family="Liberation Serif, serif" font-size="8" fill="#2a2a2a" stroke="#2a2a2a" stroke-width="0.18"><tspan font-size="5.0" dy="-3.0">12</tspan><tspan dy="3.0" x="52.6">C ions</tspan></text>
<text x="364.9" y="251.5" text-anchor="end" font-family="Liberation Serif, serif" font-size="7.7" font-weight="bold" fill="#1e1e1e">(C)</text>
<g fill="none" stroke-linejoin="round" stroke-linecap="butt">
<polyline points="44.50,404.29 57.43,402.13 70.85,399.54 84.19,396.72 97.12,393.93 109.48,391.46 122.41,389.35 135.34,388.07 147.95,387.97 161.42,389.45 173.90,392.37 187.40,396.68 201.89,401.51 215.84,405.32 230.64,408.32 246.26,411.03 264.68,413.92 281.83,415.54 289.85,415.89 304.32,416.42 320.51,417.69 343.54,422.12" stroke="#2c3b8c" stroke-width="1.1"/>
<polyline points="44.50,406.00 57.43,404.09 70.85,401.65 84.19,398.77 97.12,395.60 109.48,392.36 122.41,388.96 135.34,385.83 147.95,383.50 161.42,382.40 173.90,383.20 187.40,386.05 201.89,390.47 215.84,394.69 230.64,398.60 246.26,402.68 264.68,407.52 281.83,410.72 289.85,411.65 304.32,413.08 320.51,415.08 343.54,420.02" stroke="#3282d0" stroke-width="1.1"/>
<polyline points="44.50,407.76 57.43,406.23 70.85,404.23 84.19,401.75 97.12,398.85 109.48,395.64 122.41,391.88 135.34,387.85 147.95,383.93 161.42,380.30 173.90,378.18 187.40,377.92 201.89,379.90 215.84,382.97 230.64,386.71 246.26,391.58 264.68,398.43 281.83,403.67 289.85,405.42 304.32,408.15 320.51,411.38 343.54,417.20" stroke="#3fc2ea" stroke-width="1.1"/>
<polyline points="44.50,409.65 57.43,408.64 70.85,407.28 84.19,405.55 97.12,403.43 109.48,400.95 122.41,397.81 135.34,394.06 147.95,389.83 161.42,384.82 173.90,380.14 187.40,375.83 201.89,372.91 215.84,371.90 230.64,372.51 246.26,375.52 264.68,382.67 281.83,389.93 289.85,392.75 304.32,397.50 320.51,403.10 343.54,411.34" stroke="#64984c" stroke-width="1.1"/>
<polyline points="44.50,410.68 57.43,409.97 70.85,409.01 84.19,407.78 97.12,406.25 109.48,404.41 122.41,402.03 135.34,399.05 147.95,395.49 161.42,390.87 173.90,385.95 187.40,380.38 201.89,374.91 215.84,370.76 230.64,367.81 246.26,367.03 264.68,370.78 281.83,377.12 289.85,380.08 304.32,385.73 320.51,393.21 343.54,404.15" stroke="#92d062" stroke-width="1.1"/>
<polyline points="44.50,411.42 57.43,410.92 70.85,410.26 84.19,409.40 97.12,408.34 109.48,407.05 122.41,405.35 135.34,403.19 147.95,400.50 161.42,396.83 173.90,392.62 187.40,387.31 201.89,381.21 215.84,375.51 230.64,369.99 246.26,365.28 264.68,363.26 281.83,365.40 289.85,367.15 304.32,371.86 320.51,380.16 343.54,393.71" stroke="#f7d47a" stroke-width="1.1"/>
<polyline points="44.50,412.07 57.43,411.77 70.85,411.36 84.19,410.84 97.12,410.19 109.48,409.41 122.41,408.37 135.34,407.04 147.95,405.36 161.42,402.98 173.90,400.11 187.40,396.20 201.89,391.19 215.84,385.84 230.64,379.71 246.26,372.61 264.68,364.30 281.83,358.50 289.85,356.66 304.32,356.07 320.51,361.27 343.54,374.80" stroke="#f29c62" stroke-width="1.1"/>
<polyline points="44.50,412.40 57.43,412.19 70.85,411.90 84.19,411.54 97.12,411.10 109.48,410.56 122.41,409.86 135.34,408.95 147.95,407.81 161.42,406.18 173.90,404.18 187.40,401.38 201.89,397.63 215.84,393.41 230.64,388.21 246.26,381.51 264.68,371.78 281.83,361.99 289.85,357.57 304.32,351.60 320.51,351.01 343.54,358.83" stroke="#ff4048" stroke-width="1.1"/>
<polyline points="44.50,410.58 57.43,409.92 70.85,409.07 84.19,408.05 97.12,406.89 109.48,405.63 122.41,404.18 135.34,402.66 147.95,401.25 161.42,400.08 173.90,399.72 187.40,400.40 201.89,402.22 215.84,404.24 230.64,406.16 246.26,408.23 264.68,410.92 281.83,412.59 289.85,412.94 304.32,413.54 320.51,415.14 343.54,420.85" stroke="#2c3b8c" stroke-width="1.25" stroke-dasharray="3 1.9" stroke-dashoffset="0.0"/>
<polyline points="44.50,410.85 57.43,410.24 70.85,409.43 84.19,408.45 97.12,407.28 109.48,405.96 122.41,404.34 135.34,402.49 147.95,400.50 161.42,398.31 173.90,396.52 187.40,395.29 201.89,395.10 215.84,395.73 230.64,396.82 246.26,398.73 264.68,402.22 281.83,405.13 289.85,406.05 304.32,407.65 320.51,410.26 343.54,417.22" stroke="#3282d0" stroke-width="1.25" stroke-dasharray="3 1.9" stroke-dashoffset="0.7"/>
<polyline points="44.50,411.23 57.43,410.71 70.85,410.02 84.19,409.15 97.12,408.11 109.48,406.89 122.41,405.36 135.34,403.51 147.95,401.38 161.42,398.74 173.90,396.08 187.40,393.33 201.89,390.97 215.84,389.46 230.64,388.59 246.26,388.85 264.68,391.54 281.83,394.99 289.85,396.40 304.32,399.10 320.51,403.18 343.54,411.80" stroke="#3fc2ea" stroke-width="1.25" stroke-dasharray="3 1.9" stroke-dashoffset="1.4"/>
<polyline points="44.50,411.78 57.43,411.40 70.85,410.89 84.19,410.25 97.12,409.46 109.48,408.53 122.41,407.33 135.34,405.83 147.95,404.01 161.42,401.57 173.90,398.82 187.40,395.41 201.89,391.54 215.84,387.92 230.64,384.33 246.26,381.09 264.68,379.34 281.83,380.11 289.85,380.92 304.32,383.57 320.51,389.10 343.54,400.39" stroke="#64984c" stroke-width="1.25" stroke-dasharray="3 1.9" stroke-dashoffset="2.1"/>
<polyline points="44.50,412.14 57.43,411.85 70.85,411.48 84.19,411.00 97.12,410.41 109.48,409.71 122.41,408.80 135.34,407.65 147.95,406.22 161.42,404.25 173.90,401.93 187.40,398.86 201.89,395.05 215.84,391.08 230.64,386.62 246.26,381.59 264.68,376.04 281.83,372.48 289.85,371.44 304.32,371.53 320.51,375.93 343.54,387.75" stroke="#92d062" stroke-width="1.25" stroke-dasharray="3 1.9" stroke-dashoffset="2.8"/>
<polyline points="44.50,412.42 57.43,412.22 70.85,411.95 84.19,411.60 97.12,411.18 109.48,410.68 122.41,410.02 135.34,409.18 147.95,408.13 161.42,406.66 173.90,404.89 187.40,402.47 201.89,399.29 215.84,395.78 230.64,391.54 246.26,386.16 264.68,378.60 281.83,371.26 289.85,368.02 304.32,363.92 320.51,364.35 343.54,372.72" stroke="#f7d47a" stroke-width="1.25" stroke-dasharray="3 1.9" stroke-dashoffset="3.5"/>
<polyline points="44.50,412.69 57.43,412.56 70.85,412.39 84.19,412.17 97.12,411.90 109.48,411.58 122.41,411.17 135.34,410.64 147.95,409.98 161.42,409.06 173.90,407.92 187.40,406.34 201.89,404.20 215.84,401.72 230.64,398.55 246.26,394.20 264.68,387.00 281.83,378.14 289.85,373.38 304.32,365.02 320.51,358.71 343.54,355.54" stroke="#f29c62" stroke-width="1.25" stroke-dasharray="3 1.9" stroke-dashoffset="4.2"/>
<polyline points="44.50,412.83 57.43,412.74 70.85,412.62 84.19,412.46 97.12,412.27 109.48,412.05 122.41,411.76 135.34,411.40 147.95,410.94 161.42,410.30 173.90,409.51 187.40,408.41 201.89,406.91 215.84,405.16 230.64,402.87 246.26,399.60 264.68,393.84 281.83,386.01 289.85,381.45 304.32,372.46 320.51,363.22 343.54,350.63" stroke="#ff4048" stroke-width="1.25" stroke-dasharray="3 1.9" stroke-dashoffset="4.9"/>
</g>
<path d="M44.5,346.5 V426.5 H371" fill="none" stroke="#5a5a5a" stroke-width="1"/>
<path d="M44,346.5 H371 V426.5" fill="none" stroke="#777" stroke-width="1"/>
<line x1="44.5" y1="426.50" x2="46.8" y2="426.50" stroke="#333" stroke-width="1"/>
<line x1="44.5" y1="399.83" x2="46.8" y2="399.83" stroke="#333" stroke-width="1"/>
<line x1="44.5" y1="373.17" x2="46.8" y2="373.17" stroke="#333" stroke-width="1"/>
<line x1="44.5" y1="346.50" x2="46.8" y2="346.50" stroke="#333" stroke-width="1"/>
<line x1="44.5" y1="413.17" x2="46.8" y2="413.17" stroke="#333" stroke-width="1"/>
<line x1="44.5" y1="386.50" x2="46.8" y2="386.50" stroke="#333" stroke-width="1"/>
<line x1="44.5" y1="359.83" x2="46.8" y2="359.83" stroke="#333" stroke-width="1"/>
<text x="38.4" y="428.40" text-anchor="end" font-family="Liberation Serif, serif" font-size="7.4" fill="#333">0</text>
<text x="38.4" y="401.73" text-anchor="end" font-family="Liberation Serif, serif" font-size="7.4" fill="#333">2</text>
<text x="38.4" y="375.07" text-anchor="end" font-family="Liberation Serif, serif" font-size="7.4" fill="#333">4</text>
<text x="38.4" y="348.40" text-anchor="end" font-family="Liberation Serif, serif" font-size="7.4" fill="#333">6</text>
<line x1="93.66" y1="426.5" x2="93.66" y2="424.7" stroke="#333" stroke-width="0.9"/>
<line x1="122.41" y1="426.5" x2="122.41" y2="424.7" stroke="#333" stroke-width="0.9"/>
<line x1="142.82" y1="426.5" x2="142.82" y2="424.7" stroke="#333" stroke-width="0.9"/>
<line x1="158.64" y1="426.5" x2="158.64" y2="424.7" stroke="#333" stroke-width="0.9"/>
<line x1="171.57" y1="426.5" x2="171.57" y2="424.7" stroke="#333" stroke-width="0.9"/>
<line x1="182.50" y1="426.5" x2="182.50" y2="424.7" stroke="#333" stroke-width="0.9"/>
<line x1="191.97" y1="426.5" x2="191.97" y2="424.7" stroke="#333" stroke-width="0.9"/>
<line x1="200.33" y1="426.5" x2="200.33" y2="424.7" stroke="#333" stroke-width="0.9"/>
<line x1="256.96" y1="426.5" x2="256.96" y2="424.7" stroke="#333" stroke-width="0.9"/>
<line x1="285.71" y1="426.5" x2="285.71" y2="424.7" stroke="#333" stroke-width="0.9"/>
<line x1="306.12" y1="426.5" x2="306.12" y2="424.7" stroke="#333" stroke-width="0.9"/>
<line x1="321.94" y1="426.5" x2="321.94" y2="424.7" stroke="#333" stroke-width="0.9"/>
<line x1="334.87" y1="426.5" x2="334.87" y2="424.7" stroke="#333" stroke-width="0.9"/>
<line x1="345.80" y1="426.5" x2="345.80" y2="424.7" stroke="#333" stroke-width="0.9"/>
<line x1="355.27" y1="426.5" x2="355.27" y2="424.7" stroke="#333" stroke-width="0.9"/>
<line x1="363.63" y1="426.5" x2="363.63" y2="424.7" stroke="#333" stroke-width="0.9"/>
<line x1="207.80" y1="426.5" x2="207.80" y2="424.0" stroke="#333" stroke-width="1"/>
<text x="44.80" y="438.4" text-anchor="middle" font-family="Liberation Serif, serif" font-size="7.4" fill="#333">10</text>
<text x="208.10" y="438.4" text-anchor="middle" font-family="Liberation Serif, serif" font-size="7.4" fill="#333">100</text>
<text x="371.40" y="438.4" text-anchor="middle" font-family="Liberation Serif, serif" font-size="7.4" fill="#333">1000</text>
<text x="155" y="442.9" font-family="Liberation Serif, serif" font-size="7.4" textLength="105.5" lengthAdjust="spacingAndGlyphs" fill="#2e2e2e" stroke="#2e2e2e" stroke-width="0.08">Unrestricted LET in water [keV/μm]</text>
<text x="47.6" y="356.6" font-family="Liberation Serif, serif" font-size="8" fill="#2a2a2a" stroke="#2a2a2a" stroke-width="0.18"><tspan font-size="5.0" dy="-3.0">12</tspan><tspan dy="3.0" x="52.6">C ions</tspan></text>
<text x="364.9" y="356.5" text-anchor="end" font-family="Liberation Serif, serif" font-size="7.7" font-weight="bold" fill="#1e1e1e">(D)</text>
<g fill="none" stroke-linejoin="round" stroke-linecap="butt">
<polyline points="44.50,504.35 57.43,502.10 70.85,499.38 84.19,496.41 97.12,493.47 109.48,490.85 122.41,488.65 135.34,487.36 147.95,487.37 161.42,489.16 173.90,492.56 187.40,497.50 201.89,503.03 215.84,507.37 230.64,510.81 246.26,513.91 264.68,517.22 281.83,519.08 289.85,519.48 304.32,520.09 320.51,521.53 343.54,526.54" stroke="#2c3b8c" stroke-width="1.1"/>
<polyline points="44.50,506.45 57.43,504.56 70.85,502.15 84.19,499.28 97.12,496.10 109.48,492.84 122.41,489.39 135.34,486.23 147.95,483.89 161.42,482.89 173.90,483.91 187.40,487.13 201.89,492.03 215.84,496.68 230.64,500.99 246.26,505.48 264.68,510.80 281.83,514.31 289.85,515.33 304.32,516.91 320.51,519.09 343.54,524.45" stroke="#3282d0" stroke-width="1.1"/>
<polyline points="44.50,508.33 57.43,506.89 70.85,505.00 84.19,502.64 97.12,499.87 109.48,496.77 122.41,493.13 135.34,489.20 147.95,485.36 161.42,481.83 173.90,479.84 187.40,479.76 201.89,482.01 215.84,485.35 230.64,489.38 246.26,494.58 264.68,501.86 281.83,507.43 289.85,509.28 304.32,512.18 320.51,515.59 343.54,521.72" stroke="#3fc2ea" stroke-width="1.1"/>
<polyline points="44.50,510.19 57.43,509.26 70.85,508.02 84.19,506.43 97.12,504.49 109.48,502.21 122.41,499.32 135.34,495.84 147.95,491.89 161.42,487.17 173.90,482.75 187.40,478.69 201.89,476.02 215.84,475.21 230.64,476.00 246.26,479.22 264.68,486.64 281.83,494.13 289.85,497.04 304.32,501.91 320.51,507.64 343.54,516.05" stroke="#64984c" stroke-width="1.1"/>
<polyline points="44.50,511.17 57.43,510.51 70.85,509.64 84.19,508.52 97.12,507.13 109.48,505.48 122.41,503.34 135.34,500.65 147.95,497.42 161.42,493.20 173.90,488.67 187.40,483.51 201.89,478.43 215.84,474.59 230.64,471.90 246.26,471.35 264.68,475.34 281.83,481.84 289.85,484.86 304.32,490.59 320.51,498.12 343.54,509.11" stroke="#92d062" stroke-width="1.1"/>
<polyline points="44.50,511.86 57.43,511.40 70.85,510.79 84.19,510.01 97.12,509.05 109.48,507.90 122.41,506.38 135.34,504.45 147.95,502.06 161.42,498.79 173.90,495.01 187.40,490.21 201.89,484.64 215.84,479.39 230.64,474.29 246.26,469.98 264.68,468.33 281.83,470.70 289.85,472.52 304.32,477.31 320.51,485.58 343.54,499.04" stroke="#f7d47a" stroke-width="1.1"/>
<polyline points="44.50,512.47 57.43,512.18 70.85,511.81 84.19,511.33 97.12,510.73 109.48,510.03 122.41,509.10 135.34,507.91 147.95,506.42 161.42,504.33 173.90,501.80 187.40,498.36 201.89,493.91 215.84,489.11 230.64,483.55 246.26,477.07 264.68,469.48 281.83,464.23 289.85,462.60 304.32,462.25 320.51,467.50 343.54,480.87" stroke="#f29c62" stroke-width="1.1"/>
<polyline points="44.50,512.77 57.43,512.57 70.85,512.31 84.19,511.98 97.12,511.57 109.48,511.08 122.41,510.44 135.34,509.62 147.95,508.60 161.42,507.16 173.90,505.41 187.40,502.96 201.89,499.68 215.84,495.95 230.64,491.33 246.26,485.32 264.68,476.51 281.83,467.55 289.85,463.48 304.32,458.01 320.51,457.69 343.54,465.56" stroke="#ff4048" stroke-width="1.1"/>
<polyline points="44.50,510.46 57.43,509.68 70.85,508.67 84.19,507.46 97.12,506.08 109.48,504.58 122.41,502.85 135.34,501.04 147.95,499.35 161.42,497.98 173.90,497.60 187.40,498.52 201.89,500.86 215.84,503.43 230.64,505.87 246.26,508.51 264.68,511.92 281.83,514.05 289.85,514.51 304.32,515.28 320.51,517.28 343.54,524.42" stroke="#2c3b8c" stroke-width="1.25" stroke-dasharray="3 1.9" stroke-dashoffset="0.0"/>
<polyline points="44.50,510.93 57.43,510.25 70.85,509.36 84.19,508.25 97.12,506.94 109.48,505.45 122.41,503.63 135.34,501.54 147.95,499.27 161.42,496.78 173.90,494.75 187.40,493.40 201.89,493.29 215.84,494.13 230.64,495.53 246.26,497.90 264.68,502.18 281.83,505.74 289.85,506.87 304.32,508.82 320.51,511.98 343.54,520.33" stroke="#3282d0" stroke-width="1.25" stroke-dasharray="3 1.9" stroke-dashoffset="0.7"/>
<polyline points="44.50,511.47 57.43,510.92 70.85,510.20 84.19,509.29 97.12,508.19 109.48,506.91 122.41,505.29 135.34,503.32 147.95,501.04 161.42,498.20 173.90,495.33 187.40,492.37 201.89,489.85 215.84,488.27 230.64,487.40 246.26,487.84 264.68,491.06 281.83,495.13 289.85,496.79 304.32,499.95 320.51,504.67 343.54,514.59" stroke="#3fc2ea" stroke-width="1.25" stroke-dasharray="3 1.9" stroke-dashoffset="1.4"/>
<polyline points="44.50,512.12 57.43,511.74 70.85,511.24 84.19,510.61 97.12,509.84 109.48,508.92 122.41,507.74 135.34,506.26 147.95,504.45 161.42,502.03 173.90,499.27 187.40,495.84 201.89,491.93 215.84,488.24 230.64,484.58 246.26,481.30 264.68,479.66 281.83,480.70 289.85,481.66 304.32,484.65 320.51,490.73 343.54,503.06" stroke="#64984c" stroke-width="1.25" stroke-dasharray="3 1.9" stroke-dashoffset="2.1"/>
<polyline points="44.50,512.50 57.43,512.23 70.85,511.86 84.19,511.41 97.12,510.85 109.48,510.18 122.41,509.31 135.34,508.22 147.95,506.86 161.42,504.98 173.90,502.77 187.40,499.83 201.89,496.15 215.84,492.29 230.64,487.91 246.26,482.95 264.68,477.50 281.83,474.07 289.85,473.11 304.32,473.38 320.51,478.13 343.54,490.67" stroke="#92d062" stroke-width="1.25" stroke-dasharray="3 1.9" stroke-dashoffset="2.8"/>
<polyline points="44.50,512.78 57.43,512.59 70.85,512.33 84.19,512.01 97.12,511.61 109.48,511.13 122.41,510.52 135.34,509.73 147.95,508.76 161.42,507.40 173.90,505.77 187.40,503.52 201.89,500.58 215.84,497.29 230.64,493.29 246.26,488.18 264.68,480.93 281.83,473.85 289.85,470.72 304.32,466.80 320.51,467.44 343.54,476.22" stroke="#f7d47a" stroke-width="1.25" stroke-dasharray="3 1.9" stroke-dashoffset="3.5"/>
<polyline points="44.50,513.05 57.43,512.92 70.85,512.76 84.19,512.55 97.12,512.30 109.48,512.00 122.41,511.62 135.34,511.13 147.95,510.52 161.42,509.67 173.90,508.64 187.40,507.21 201.89,505.27 215.84,503.04 230.64,500.17 246.26,496.20 264.68,489.57 281.83,481.30 289.85,476.80 304.32,468.85 320.51,462.90 343.54,460.15" stroke="#f29c62" stroke-width="1.25" stroke-dasharray="3 1.9" stroke-dashoffset="4.2"/>
<polyline points="44.50,513.18 57.43,513.09 70.85,512.98 84.19,512.83 97.12,512.65 109.48,512.45 122.41,512.18 135.34,511.83 147.95,511.41 161.42,510.82 173.90,510.11 187.40,509.11 201.89,507.76 215.84,506.19 230.64,504.15 246.26,501.24 264.68,496.07 281.83,488.95 289.85,484.74 304.32,476.37 320.51,467.72 343.54,455.89" stroke="#ff4048" stroke-width="1.25" stroke-dasharray="3 1.9" stroke-dashoffset="4.9"/>
</g>
<path d="M44.5,450.5 V531.5 H371" fill="none" stroke="#5a5a5a" stroke-width="1"/>
<path d="M44,450.5 H371 V531.5" fill="none" stroke="#777" stroke-width="1"/>
<line x1="44.5" y1="531.50" x2="46.8" y2="531.50" stroke="#333" stroke-width="1"/>
<line x1="44.5" y1="495.50" x2="46.8" y2="495.50" stroke="#333" stroke-width="1"/>
<line x1="44.5" y1="459.50" x2="46.8" y2="459.50" stroke="#333" stroke-width="1"/>
<line x1="44.5" y1="513.50" x2="46.8" y2="513.50" stroke="#333" stroke-width="1"/>
<line x1="44.5" y1="477.50" x2="46.8" y2="477.50" stroke="#333" stroke-width="1"/>
<text x="38.4" y="533.40" text-anchor="end" font-family="Liberation Serif, serif" font-size="7.4" fill="#333">0</text>
<text x="38.4" y="497.40" text-anchor="end" font-family="Liberation Serif, serif" font-size="7.4" fill="#333">2</text>
<text x="38.4" y="461.40" text-anchor="end" font-family="Liberation Serif, serif" font-size="7.4" fill="#333">4</text>
<line x1="93.66" y1="531.5" x2="93.66" y2="529.7" stroke="#333" stroke-width="0.9"/>
<line x1="122.41" y1="531.5" x2="122.41" y2="529.7" stroke="#333" stroke-width="0.9"/>
<line x1="142.82" y1="531.5" x2="142.82" y2="529.7" stroke="#333" stroke-width="0.9"/>
<line x1="158.64" y1="531.5" x2="158.64" y2="529.7" stroke="#333" stroke-width="0.9"/>
<line x1="171.57" y1="531.5" x2="171.57" y2="529.7" stroke="#333" stroke-width="0.9"/>
<line x1="182.50" y1="531.5" x2="182.50" y2="529.7" stroke="#333" stroke-width="0.9"/>
<line x1="191.97" y1="531.5" x2="191.97" y2="529.7" stroke="#333" stroke-width="0.9"/>
<line x1="200.33" y1="531.5" x2="200.33" y2="529.7" stroke="#333" stroke-width="0.9"/>
<line x1="256.96" y1="531.5" x2="256.96" y2="529.7" stroke="#333" stroke-width="0.9"/>
<line x1="285.71" y1="531.5" x2="285.71" y2="529.7" stroke="#333" stroke-width="0.9"/>
<line x1="306.12" y1="531.5" x2="306.12" y2="529.7" stroke="#333" stroke-width="0.9"/>
<line x1="321.94" y1="531.5" x2="321.94" y2="529.7" stroke="#333" stroke-width="0.9"/>
<line x1="334.87" y1="531.5" x2="334.87" y2="529.7" stroke="#333" stroke-width="0.9"/>
<line x1="345.80" y1="531.5" x2="345.80" y2="529.7" stroke="#333" stroke-width="0.9"/>
<line x1="355.27" y1="531.5" x2="355.27" y2="529.7" stroke="#333" stroke-width="0.9"/>
<line x1="363.63" y1="531.5" x2="363.63" y2="529.7" stroke="#333" stroke-width="0.9"/>
<line x1="207.80" y1="531.5" x2="207.80" y2="529.0" stroke="#333" stroke-width="1"/>
<text x="44.80" y="543.4" text-anchor="middle" font-family="Liberation Serif, serif" font-size="7.4" fill="#333">10</text>
<text x="208.10" y="543.4" text-anchor="middle" font-family="Liberation Serif, serif" font-size="7.4" fill="#333">100</text>
<text x="371.40" y="543.4" text-anchor="middle" font-family="Liberation Serif, serif" font-size="7.4" fill="#333">1000</text>
<text x="155" y="547.9" font-family="Liberation Serif, serif" font-size="7.4" textLength="105.5" lengthAdjust="spacingAndGlyphs" fill="#2e2e2e" stroke="#2e2e2e" stroke-width="0.08">Unrestricted LET in water [keV/μm]</text>
<text x="47.6" y="460.6" font-family="Liberation Serif, serif" font-size="8" fill="#2a2a2a" stroke="#2a2a2a" stroke-width="0.18"><tspan font-size="5.0" dy="-3.0">12</tspan><tspan dy="3.0" x="52.6">C ions</tspan></text>
<text x="364.9" y="460.5" text-anchor="end" font-family="Liberation Serif, serif" font-size="7.7" font-weight="bold" fill="#1e1e1e">(E)</text>
</svg></div></body></html>
